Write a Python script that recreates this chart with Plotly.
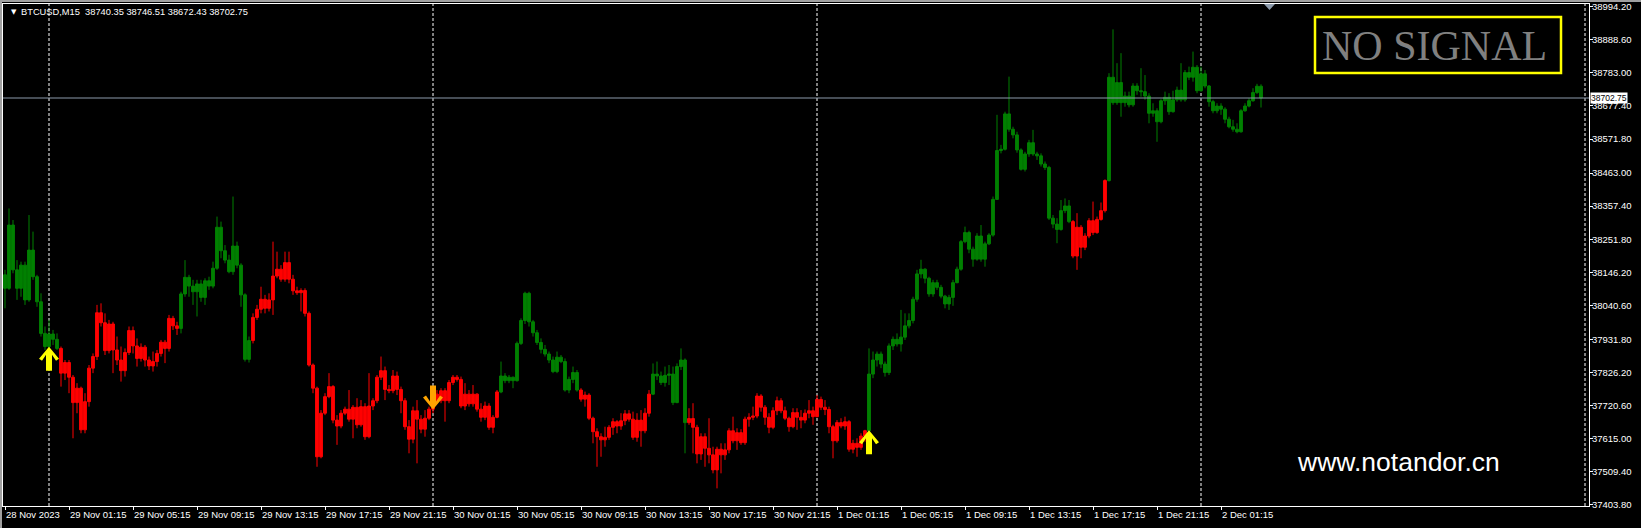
import plotly.graph_objects as go

# MT4 window: BTCUSD M15, 28 Nov 2023 21:15 onwards, one entry per bar
symbol = "BTCUSD,M15"
first_open = 38138

close_prices = [
    38095, 38297, 38154, 38095, 38169, 38058, 38217, 38132, 38052, 37951,
    37909, 37949, 37932, 37903, 37824, 37858, 37811, 37730, 37776, 37643,
    37733, 37840, 37877, 38017, 37985, 37896, 37981, 37898, 37866, 37832,
    37890, 37960, 37911, 37871, 37907, 37866, 37847, 37861, 37887, 37923,
    37903, 37999, 37975, 37967, 38077, 38130, 38102, 38084, 38109, 38066,
    38119, 38102, 38159, 38290, 38215, 38185, 38148, 38230, 38169, 38074,
    37868, 37928, 38002, 38028, 38060, 38031, 38058, 38134, 38156, 38124,
    38177, 38124, 38087, 38081, 38088, 38015, 37850, 37776, 37557, 37696,
    37749, 37781, 37674, 37655, 37696, 37709, 37677, 37715, 37659, 37717,
    37621, 37719, 37736, 37811, 37832, 37772, 37768, 37815, 37772, 37736,
    37653, 37613, 37704, 37677, 37645, 37680, 37709, 37757, 37736, 37768,
    37736, 37794, 37811, 37804, 37719, 37757, 37726, 37757, 37709, 37683,
    37719, 37651, 37683, 37764, 37815, 37800, 37811, 37800, 37919, 37992,
    38079, 37988, 37953, 37922, 37900, 37885, 37866, 37829, 37875, 37861,
    37770, 37804, 37826, 37770, 37741, 37754, 37680, 37637, 37621, 37611,
    37619, 37651, 37669, 37655, 37672, 37694, 37677, 37619, 37674, 37640,
    37696, 37757, 37821, 37815, 37794, 37817, 37821, 37730, 37845, 37866,
    37666, 37679, 37651, 37566, 37621, 37584, 37563, 37515, 37581, 37563,
    37579, 37640, 37608, 37634, 37602, 37677, 37683, 37687, 37751, 37715,
    37683, 37651, 37704, 37736, 37704, 37680, 37653, 37698, 37683, 37674,
    37696, 37704, 37685, 37740, 37715, 37708, 37653, 37608, 37666, 37655,
    37669, 37581, 37600, 37587, 37623, 37640, 37821, 37866, 37885, 37853,
    37826, 37911, 37932, 37917, 37939, 37975, 37992, 38060, 38141, 38156,
    38127, 38077, 38113, 38098, 38070, 38045, 38066, 38113, 38156, 38244,
    38273, 38220, 38188, 38262, 38188, 38237, 38265, 38379, 38535, 38539,
    38652, 38603, 38585, 38537, 38475, 38524, 38560, 38524, 38518, 38492,
    38481, 38319, 38300, 38283, 38343, 38358, 38308, 38198, 38290, 38226,
    38262, 38311, 38273, 38315, 38343, 38439, 38769, 38688, 38752, 38688,
    38709, 38681, 38741, 38726, 38723, 38709, 38654, 38662, 38627, 38694,
    38705, 38659, 38697, 38728, 38697, 38784, 38769, 38801, 38726, 38780,
    38741, 38691, 38662, 38677, 38667, 38635, 38611, 38603, 38595, 38662,
    38677, 38694, 38720, 38740.35, 38702.75,
]

high_prices = [
    38154, 38350, 38313, 38185, 38180, 38180, 38329, 38276, 38138, 38079,
    37973, 37994, 37962, 37951, 37909, 37866, 37866, 37818, 37792, 37781,
    37760, 37850, 37887, 38042, 38047, 38015, 37994, 37988, 37941, 37909,
    37903, 37973, 37973, 37935, 37919, 37914, 37877, 37893, 37898, 37930,
    37930, 38010, 38007, 37988, 38084, 38185, 38138, 38122, 38122, 38122,
    38127, 38132, 38180, 38324, 38308, 38233, 38202, 38388, 38244, 38175,
    38079, 37941, 38015, 38042, 38100, 38074, 38079, 38244, 38212, 38169,
    38212, 38212, 38138, 38100, 38095, 38095, 38021, 37855, 37781, 37706,
    37760, 37824, 37786, 37690, 37706, 37717, 37770, 37722, 37744, 37738,
    37728, 37824, 37744, 37818, 37877, 37845, 37786, 37834, 37829, 37781,
    37744, 37674, 37717, 37738, 37690, 37706, 37717, 37770, 37770, 37776,
    37776, 37802, 37818, 37818, 37813, 37792, 37770, 37786, 37760, 37728,
    37733, 37728, 37690, 37770, 37861, 37824, 37818, 37813, 37925, 37999,
    38084, 38084, 37994, 37962, 37935, 37914, 37893, 37877, 37893, 37882,
    37871, 37813, 37845, 37834, 37776, 37765, 37760, 37685, 37648, 37632,
    37653, 37658, 37680, 37674, 37696, 37706, 37706, 37701, 37696, 37706,
    37712, 37770, 37855, 37861, 37829, 37845, 37850, 37845, 37855, 37903,
    37871, 37712, 37728, 37659, 37632, 37632, 37680, 37589, 37589, 37600,
    37600, 37648, 37685, 37648, 37645, 37685, 37696, 37717, 37760, 37757,
    37722, 37696, 37715, 37749, 37744, 37717, 37685, 37712, 37712, 37706,
    37708, 37738, 37717, 37754, 37749, 37738, 37717, 37659, 37674, 37680,
    37685, 37674, 37611, 37616, 37632, 37643, 37903, 37893, 37893, 37893,
    37861, 37919, 37941, 37951, 38026, 38015, 38015, 38068, 38154, 38186,
    38159, 38132, 38122, 38122, 38106, 38074, 38074, 38122, 38164, 38249,
    38292, 38279, 38228, 38271, 38297, 38244, 38271, 38388, 38649, 38553,
    38659, 38771, 38611, 38595, 38542, 38531, 38569, 38601, 38531, 38526,
    38500, 38486, 38329, 38319, 38377, 38382, 38377, 38313, 38335, 38297,
    38271, 38319, 38372, 38324, 38369, 38443, 38782, 38922, 38814, 38846,
    38723, 38723, 38750, 38750, 38798, 38776, 38718, 38686, 38670, 38699,
    38723, 38718, 38726, 38739, 38814, 38792, 38803, 38851, 38808, 38803,
    38792, 38744, 38697, 38686, 38686, 38673, 38643, 38633, 38622, 38667,
    38686, 38702, 38734, 38748, 38746.51,
]

low_prices = [
    38031, 38090, 38143, 38058, 38068, 38042, 38052, 38122, 38036, 37941,
    37898, 37898, 37914, 37898, 37781, 37802, 37760, 37616, 37696, 37632,
    37632, 37717, 37824, 37866, 37973, 37882, 37887, 37824, 37850, 37797,
    37813, 37882, 37887, 37845, 37861, 37845, 37834, 37829, 37845, 37877,
    37856, 37893, 37962, 37946, 37951, 38068, 38068, 38042, 38005, 38052,
    38042, 38090, 38095, 38154, 38191, 38175, 38143, 38138, 38159, 38036,
    37861, 37858, 37919, 37994, 38015, 38015, 38021, 38010, 38127, 38116,
    38116, 38111, 38074, 38074, 38021, 38005, 37845, 37760, 37525, 37552,
    37690, 37744, 37664, 37595, 37648, 37690, 37669, 37616, 37648, 37653,
    37611, 37616, 37706, 37728, 37802, 37738, 37760, 37760, 37754, 37696,
    37643, 37568, 37600, 37536, 37632, 37621, 37674, 37696, 37728, 37728,
    37669, 37728, 37786, 37797, 37712, 37706, 37717, 37717, 37701, 37669,
    37674, 37643, 37632, 37680, 37760, 37792, 37792, 37776, 37797, 37914,
    37981, 37973, 37941, 37914, 37887, 37877, 37856, 37824, 37824, 37856,
    37765, 37760, 37792, 37765, 37733, 37717, 37674, 37600, 37525, 37557,
    37589, 37611, 37627, 37632, 37643, 37658, 37669, 37611, 37605, 37589,
    37632, 37685, 37754, 37802, 37786, 37781, 37786, 37722, 37728, 37834,
    37568, 37659, 37568, 37536, 37547, 37525, 37536, 37504, 37456, 37504,
    37547, 37568, 37600, 37579, 37595, 37595, 37653, 37674, 37680, 37701,
    37659, 37632, 37645, 37690, 37696, 37674, 37637, 37648, 37643, 37648,
    37664, 37680, 37659, 37683, 37706, 37690, 37632, 37552, 37602, 37648,
    37643, 37573, 37568, 37557, 37579, 37605, 37632, 37808, 37845, 37840,
    37813, 37818, 37898, 37909, 37893, 37930, 37967, 37983, 38052, 38127,
    38111, 38068, 38068, 38090, 38063, 38031, 38026, 38039, 38111, 38151,
    38239, 38207, 38164, 38183, 38180, 38164, 38233, 38260, 38377, 38526,
    38535, 38595, 38574, 38528, 38471, 38468, 38515, 38518, 38505, 38484,
    38473, 38313, 38287, 38239, 38279, 38335, 38303, 38191, 38154, 38191,
    38217, 38255, 38265, 38269, 38311, 38337, 38436, 38681, 38681, 38643,
    38675, 38673, 38675, 38713, 38707, 38697, 38622, 38643, 38563, 38622,
    38681, 38649, 38656, 38691, 38691, 38691, 38760, 38755, 38718, 38723,
    38734, 38675, 38654, 38654, 38649, 38622, 38606, 38595, 38590, 38592,
    38659, 38673, 38691, 38716, 38672.43,
]

# indicator colouring: bar index where each trend run starts
trend_start = [0, 14, 44, 62, 124, 144, 162, 171, 216, 267, 276]
trend_dir = ["up", "down", "up", "down", "up", "down", "up", "down", "up", "down", "up"]

# signal arrows (bar index, tip price)
buy_bars = [11, 216]
buy_prices = [37908, 37642]
sell_bars = [107]
sell_prices = [37708]

# midnight period separators (bar index)
separator_bars = [11, 107, 203, 299, 395]

time_labels = ["28 Nov 2023", "29 Nov 01:15", "29 Nov 05:15", "29 Nov 09:15",
               "29 Nov 13:15", "29 Nov 17:15", "29 Nov 21:15", "30 Nov 01:15",
               "30 Nov 05:15", "30 Nov 09:15", "30 Nov 13:15", "30 Nov 17:15",
               "30 Nov 21:15", "1 Dec 01:15", "1 Dec 05:15", "1 Dec 09:15",
               "1 Dec 13:15", "1 Dec 17:15", "1 Dec 21:15", "2 Dec 01:15"]
bars_per_label = 16

price_ticks = [38994.20, 38888.60, 38783.00, 38677.40, 38571.80, 38463.00,
               38357.40, 38251.80, 38146.20, 38040.60, 37931.80, 37826.20,
               37720.60, 37615.00, 37509.40, 37403.80]

assert len(close_prices) == len(high_prices) == len(low_prices)

W, H = 1641, 528
ML, MR, MT, MB = 3, 52, 4, 22
PW, PH = W - ML - MR, H - MT - MB


def px_x(p):
    return (p - ML) / PW


def px_y(p):
    return 1 - (p - MT) / PH


colors = {"up": "#008000", "down": "#ff0000"}

n = len(close_prices)
open_prices = [first_open] + close_prices[:-1]
bar_dir = []
for i in range(n):
    d = trend_dir[0]
    for s, dd in zip(trend_start, trend_dir):
        if s <= i:
            d = dd
    bar_dir.append(d)

fig = go.Figure()
for d in ["up", "down"]:
    idx = [i for i in range(n) if bar_dir[i] == d]
    c = colors[d]
    fig.add_trace(go.Candlestick(
        x=idx,
        open=[open_prices[i] for i in idx],
        high=[high_prices[i] for i in idx],
        low=[low_prices[i] for i in idx],
        close=[close_prices[i] for i in idx],
        increasing=dict(line=dict(color=c, width=1), fillcolor=c),
        decreasing=dict(line=dict(color=c, width=1), fillcolor=c),
        whiskerwidth=0,
        showlegend=False,
        hoverinfo="skip",
    ))

shapes = []
for b in separator_bars:
    shapes.append(dict(type="line", xref="x", yref="paper", x0=b, x1=b, y0=0, y1=1,
                       line=dict(color="white", width=1, dash="3px,2px"), layer="below"))

# bid line
bid = close_prices[-1]
shapes.append(dict(type="line", xref="paper", yref="y", x0=0, x1=1, y0=bid, y1=bid,
                   line=dict(color="#8c9aab", width=1), layer="above"))

UP_ARROW = "M0,0 L10,-12 L7,-14 L3,-8 L3,-24 L-3,-24 L-3,-8 L-7,-14 L-10,-12 Z"
DOWN_ARROW = "M0,0 L10,12 L7,14 L3,8 L3,24 L-3,24 L-3,8 L-7,14 L-10,12 Z"
for b, p in zip(buy_bars, buy_prices):
    shapes.append(dict(type="path", xref="x", yref="y", xsizemode="pixel", ysizemode="pixel",
                       xanchor=b, yanchor=p, path=UP_ARROW, fillcolor="#ffff00",
                       line=dict(width=0), layer="above"))
for b, p in zip(sell_bars, sell_prices):
    shapes.append(dict(type="path", xref="x", yref="y", xsizemode="pixel", ysizemode="pixel",
                       xanchor=b, yanchor=p, path=DOWN_ARROW, fillcolor="#ffa500",
                       line=dict(width=0), layer="above"))

# NO SIGNAL box
shapes.append(dict(type="rect", xref="paper", yref="paper",
                   x0=px_x(1315), x1=px_x(1561), y0=px_y(17), y1=px_y(73),
                   line=dict(color="#ffff00", width=2.5)))

# window border and chart-shift marker
shapes.append(dict(type="rect", xref="paper", yref="paper",
                   x0=px_x(0), x1=px_x(2), y0=px_y(H), y1=px_y(0),
                   fillcolor="#a0a0a0", line=dict(width=0)))
shapes.append(dict(type="rect", xref="paper", yref="paper",
                   x0=px_x(0), x1=px_x(W), y0=px_y(2), y1=px_y(0),
                   fillcolor="#a0a0a0", line=dict(width=0)))
shapes.append(dict(type="path", xref="paper", yref="paper",
                   path="M{},{} L{},{} L{},{} Z".format(px_x(1264), px_y(4), px_x(1275), px_y(4),
                                                        px_x(1269.5), px_y(10)),
                   fillcolor="#8c9aab", line=dict(width=0)))

mono = "Liberation Sans, Arial, sans-serif"
annotations = [
    dict(xref="paper", yref="paper", x=px_x(9), y=px_y(12), text="\u25bc",
         showarrow=False, xanchor="left", yanchor="middle",
         font=dict(color="white", size=7, family="DejaVu Sans")),
    dict(xref="paper", yref="paper", x=px_x(19), y=px_y(12),
         text="{}\u00a0\u00a0{:.2f} {:.2f} {:.2f} {:.2f}".format(
             symbol, open_prices[-1], high_prices[-1], low_prices[-1], close_prices[-1]),
         showarrow=False, xanchor="left", yanchor="middle",
         font=dict(color="white", size=9.3, family=mono)),
    dict(xref="paper", yref="paper", x=px_x(1434), y=px_y(46), text="NO SIGNAL",
         showarrow=False, xanchor="center", yanchor="middle",
         font=dict(color="#808080", size=42, family="Liberation Serif, Times New Roman, serif")),
    dict(xref="paper", yref="paper", x=px_x(1398), y=px_y(462), text="www.notandor.cn",
         showarrow=False, xanchor="center", yanchor="middle",
         font=dict(color="white", size=26.5, family=mono)),
    dict(xref="paper", yref="y", x=1, y=bid, xanchor="left", yanchor="middle", xshift=1,
         text="{:.2f}".format(bid), showarrow=False, bgcolor="white", borderpad=0,
         font=dict(color="black", size=8.5, family=mono)),
]

fig.update_layout(
    width=W, height=H,
    margin=dict(l=ML, r=MR, t=MT, b=MB, autoexpand=False),
    paper_bgcolor="black", plot_bgcolor="black",
    font=dict(family=mono, color="white", size=9),
    boxgap=0.3,
    boxgroupgap=0,
    showlegend=False,
    hovermode=False,
    shapes=shapes,
    annotations=annotations,
    xaxis=dict(
        range=[-0.5, 396],
        rangeslider=dict(visible=False),
        showgrid=False, zeroline=False,
        showline=True, mirror=True, linecolor="white", linewidth=1,
        tickvals=[k * bars_per_label for k in range(len(time_labels))],
        ticktext=time_labels,
        tickangle=0,
        ticks="outside", ticklen=3, tickcolor="white",
        ticklabelposition="outside right",
        tickfont=dict(color="white", size=9.5, family=mono),
        fixedrange=True,
    ),
    yaxis=dict(
        side="right",
        range=[37399.7, 39003],
        showgrid=False, zeroline=False,
        showline=True, mirror=True, linecolor="white", linewidth=1,
        tickvals=price_ticks,
        ticktext=["{:.2f}".format(v) for v in price_ticks],
        ticks="outside", ticklen=3, tickcolor="white",
        ticklabelstandoff=-3,
        tickfont=dict(color="white", size=9.5, family=mono),
        fixedrange=True,
    ),
)

# plotly's page keeps the browser's default 8px body margin; drop it
fig.write_html("out.html", config={"displayModeBar": False},
               post_script="document.body.style.margin='0';")
